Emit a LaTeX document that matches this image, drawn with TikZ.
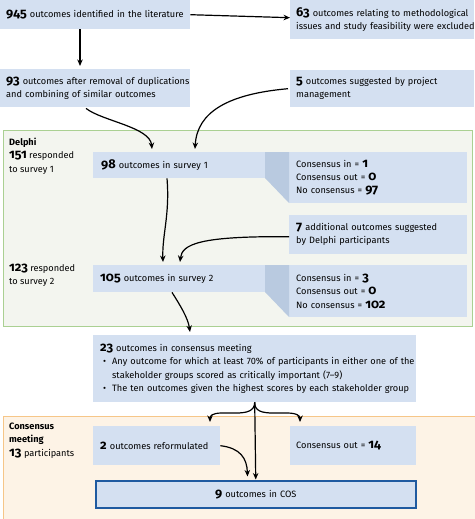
\documentclass[tikz,border=0pt]{standalone}
\usepackage{fontspec}
\setmainfont{Fira Sans}
\usetikzlibrary{arrows.meta,calc}
\definecolor{boxblue}{RGB}{212,224,241}
\definecolor{boxdark}{RGB}{185,202,224}
\definecolor{delphifill}{RGB}{243,245,239}
\definecolor{delphiline}{RGB}{170,208,146}
\definecolor{cmfill}{RGB}{253,243,230}
\definecolor{cmline}{RGB}{246,198,136}
\definecolor{cosline}{RGB}{31,90,160}
\newcommand{\nb}[1]{{\addfontfeatures{Numbers=OldStyle}\fontsize{12.8}{13}\selectfont\bfseries #1}}
\newcommand{\fsz}{\fontsize{9.2}{13.2}\selectfont}
\newcommand{\oneline}[1]{\mbox{#1}}
\begin{document}
\begin{tikzpicture}[x=1pt,y=-1pt,
  box/.style={fill=boxblue, anchor=north west, inner xsep=6pt, inner ysep=0pt, align=left, font=\fsz},
  lbl/.style={anchor=north west, inner sep=0pt, align=left, font=\fsz},
  arr/.style={-{Stealth[length=6.5pt,width=5.5pt]}, line width=1.2pt}]
\useasboundingbox (0,0) rectangle (474,519);
% regions
\draw[fill=delphifill, draw=delphiline, line width=1pt] (3,130) rectangle (472,326);
\draw[fill=cmfill, draw=cmline, line width=1pt] (3,416) rectangle (478,523);
% boxes
\node[box, minimum width=190pt, minimum height=29pt, text width=178pt] (A) at (0,0) {\oneline{\nb{945} outcomes identified in the literature}};
\node[box, minimum width=184pt, minimum height=39pt, text width=172pt] (B) at (290,0) {\oneline{\nb{63} outcomes relating to methodological}\\\oneline{issues and study feasibility were excluded}};
\node[box, minimum width=190pt, minimum height=38pt, text width=178pt] (C) at (0,69) {\oneline{\nb{93} outcomes after removal of duplications}\\\oneline{and combining of similar outcomes}};
\node[box, minimum width=184pt, minimum height=37pt, text width=172pt] (D) at (290,70) {\oneline{\nb{5} outcomes suggested by project}\\management};
\node[box, inner xsep=8pt, minimum width=172pt, minimum height=26pt, text width=156pt] (S1) at (93,152) {\oneline{\nb{98} outcomes in survey 1}};
\node[box, inner xsep=7pt, minimum width=178pt, minimum height=51pt, text width=164pt] (CS1) at (289,152) {Consensus in = \nb{1}\\Consensus out = \nb{0}\\No consensus = \nb{97}};
\fill[boxdark] (265,152) -- (289,152) -- (289,203) -- (265,178) -- cycle;
\node[box, inner xsep=7pt, minimum width=178pt, minimum height=39pt, text width=164pt] (P7) at (289,215) {\oneline{\nb{7} additional outcomes suggested}\\\oneline{by Delphi participants}};
\node[box, inner xsep=7pt, minimum width=172pt, minimum height=27pt, text width=158pt] (S2) at (93,265) {\oneline{\nb{105} outcomes in survey 2}};
\node[box, inner xsep=7pt, minimum width=178pt, minimum height=52pt, text width=164pt] (CS2) at (289,265) {Consensus in = \nb{3}\\Consensus out = \nb{0}\\No consensus = \nb{102}};
\fill[boxdark] (265,265) -- (289,265) -- (289,317) -- (265,292) -- cycle;
\node[box, inner xsep=7pt, minimum width=323pt, minimum height=67pt, text width=309pt] (CM) at (93,335) {\oneline{\nb{23} outcomes in consensus meeting}\\
\oneline{\makebox[3pt][l]{}\makebox[9pt][l]{\textbullet}Any outcome for which at least 70\% of participants in either one of the}\\
\oneline{\hspace*{12pt}stakeholder groups scored as critically important (7–9)}\\
\oneline{\makebox[3pt][l]{}\makebox[9pt][l]{\textbullet}The ten outcomes given the highest scores by each stakeholder group}};
\node[box, inner xsep=7pt, minimum width=127pt, minimum height=39pt, text width=113pt] (R2) at (93,426) {\oneline{\nb{2} outcomes reformulated}};
\node[box, minimum width=126pt, minimum height=39pt, text width=114pt] (CO) at (290,426) {\oneline{Consensus out = \nb{14}}};
\node[box, draw=cosline, line width=2.5pt, align=center, minimum width=320pt, minimum height=27pt, text width=300pt] (COS) at (94.5,479.5) {\nb{9} outcomes in COS};
% side labels
\node[lbl] (DL) at (9,138) {\textbf{Delphi}\\\nb{151} responded\\to survey 1};
\node[lbl] (DL2) at (9,264) {\nb{123} responded\\to survey 2};
\node[lbl] (CML) at (9,423) {\textbf{Consensus}\\\textbf{meeting}\\\nb{13} participants};
% connectors
\draw[arr] (A.east) -- ([yshift=2pt]B.west);
\draw[arr] ($(A.south west)+(80,0)$) -- ($(C.north west)+(80,-3)$);
\draw[arr] ($(C.south west)+(86,1)$) .. controls (102,121) and (150,127) .. ($(S1.north west)+(59,-3)$);
\draw[arr] ($(D.west)+(-2,0)$) .. controls (228,94) and (197,112) .. ($(S1.north west)+(102,-3)$);
\draw[arr] ($(S1.south west)+(74,0)$) .. controls (170,215) and (162,235) .. ($(S2.north west)+(70,-3)$);
\draw[arr] ($(P7.west)+(0,2)$) .. controls (200,236) and (182,244) .. ($(S2.north west)+(87,-3)$);
\draw[arr] ($(S2.south west)+(79,0)$) .. controls (180,305) and (188,318) .. ($(CM.north west)+(97,-3)$);
\draw[arr] (CM.south) -- (COS.north);
\draw[arr] (CM.south) .. controls (254.5,411) and (247,413) .. (236,413) -- (222,413) .. controls (212,413) and (210,416) .. ($(R2.north west)+(117,-4)$);
\draw[arr] (CM.south) .. controls (254.5,411) and (262,413) .. (273,413) -- (287,413) .. controls (297,413) and (300,416) .. ($(CO.north west)+(10,-4)$);
\draw[arr] (R2.east) .. controls (240,448) and (247,458) .. ($(COS.north west)+(153,-3)$);
\end{tikzpicture}
\end{document}
